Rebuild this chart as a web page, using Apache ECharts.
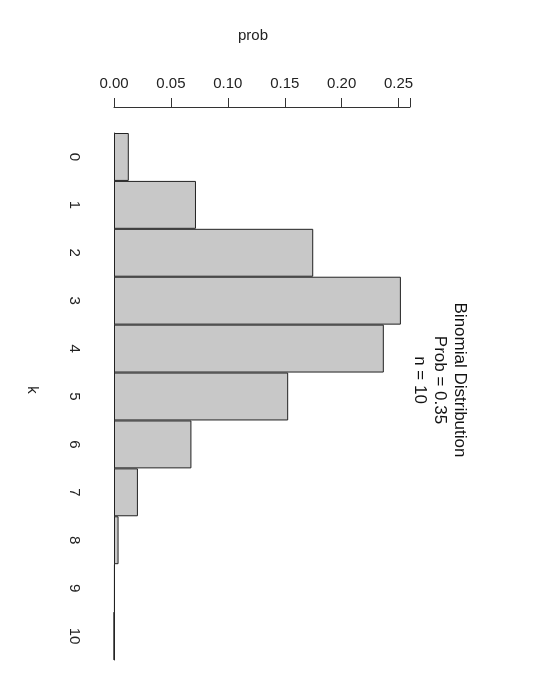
<!DOCTYPE html>
<html>
<head>
<meta charset="utf-8">
<script src="https://cdn.jsdelivr.net/npm/echarts@6/dist/echarts.min.js"></script>
<style>html,body{margin:0;background:#fff;}#main{width:534px;height:700px;}</style>
</head>
<body>
<div id="main"></div>
<script>
// k values and bar heights
var kLabels = ['0', '1', '2', '3', '4', '5', '6', '7', '8', '9', '10'];
var probValues = [0.013, 0.072, 0.175, 0.252, 0.237, 0.153, 0.068, 0.021, 0.004, 0.0008, 0.0001];
var probTicks = [0, 0.05, 0.1, 0.15, 0.2, 0.25];

var myChart = echarts.init(document.getElementById('main'));
var option = {
    backgroundColor: '#fff',
    textStyle: { fontFamily: 'Liberation Sans, Arial' },
    grid: { left: 114, top: 133, width: 296, height: 527 },
    xAxis: {
        type: 'value', position: 'top', min: 0, max: 0.26, interval: 0.05, offset: 26,
        axisLine: { show: true, lineStyle: { color: '#333' } },
        axisTick: { show: true, length: 9, lineStyle: { color: '#333' } },
        splitLine: { show: false },
        axisLabel: {
            fontSize: 15, color: '#222', margin: 16,
            formatter: function (v) { return probTicks.indexOf(Math.round(v * 100) / 100) >= 0 ? v.toFixed(2) : ''; }
        }
    },
    yAxis: {
        type: 'category', inverse: true, data: kLabels,
        axisLine: { show: true, lineStyle: { color: '#333' } },
        axisTick: { show: false },
        axisLabel: { rotate: -90, fontSize: 15, color: '#222', margin: 32 }
    },
    series: [{
        type: 'bar', data: probValues, barCategoryGap: 0,
        itemStyle: { color: '#c8c8c8', borderColor: '#222', borderWidth: 1 }
    }],
    graphic: [
        { type: 'text', left: 238, top: 28, style: { text: 'prob', fontSize: 15, fill: '#222' } },
        { type: 'text', x: 32, y: 390, rotation: -Math.PI / 2,
          style: { text: 'k', fontSize: 15, fill: '#222', align: 'center', verticalAlign: 'middle' } },
        { type: 'text', x: 440, y: 380, rotation: -Math.PI / 2,
          style: { text: 'Binomial Distribution\nProb = 0.35\nn = 10', fontSize: 17, lineHeight: 20,
                   fill: '#111', align: 'center', verticalAlign: 'middle' } }
    ]
};
myChart.setOption(option, true);
</script>
</body>
</html>
